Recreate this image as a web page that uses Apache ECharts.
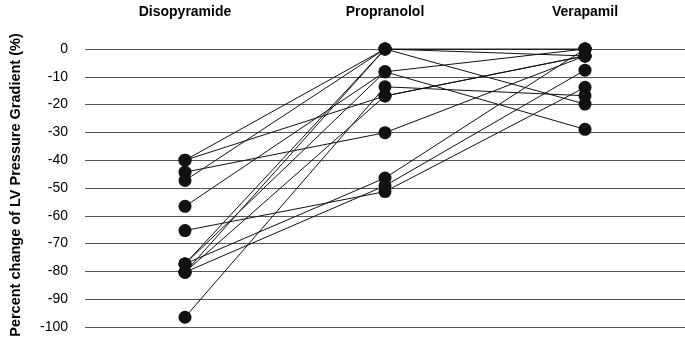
<!DOCTYPE html>
<html>
<head>
<meta charset="utf-8">
<script src="https://cdn.jsdelivr.net/npm/echarts@6/dist/echarts.min.js"></script>
<style>html,body{margin:0;padding:0;background:#fff}#c{width:685px;height:353px}</style>
</head>
<body>
<div id="c"></div>
<script>
const categories = ['Disopyramide', 'Propranolol', 'Verapamil'];
const yTicks = [0, -10, -20, -30, -40, -50, -60, -70, -80, -90, -100];
const yAxisTitle = 'Percent change of LV Pressure Gradient (%)';
// each patient: [Disopyramide, Propranolol, Verapamil]
const patient1 = [-40, 0, 0];
const patient2 = [-40, -16.9, -2.5];
const patient3 = [-44.3, -30.1, -2.5];
const patient4 = [-47.3, 0, -19.8];
const patient5 = [-56.6, -8.2, -28.9];
const patient6 = [-65.3, -51.3, -13.8];
const patient7 = [-77.3, 0, 0];
const patient8 = [-80.3, 0, -2.5];
const patient9 = [-77.3, -8.2, 0];
const patient10 = [-80.3, -16.9, -2.5];
const patient11 = [-77.3, -46.4, 0];
const patient12 = [-80.3, -49.2, -7.6];
const patient13 = [-96.5, -13.6, -16.8];
const patients = [patient1, patient2, patient3, patient4, patient5, patient6, patient7,
  patient8, patient9, patient10, patient11, patient12, patient13];

const font = 'Liberation Sans, Arial, sans-serif';
const chart = echarts.init(document.getElementById('c'), null, {renderer: 'canvas'});
chart.setOption({
  animation: false,
  backgroundColor: '#fff',
  grid: {left: 81, top: 49, width: 606, height: 278, containLabel: false},
  xAxis: {
    type: 'category',
    data: categories,
    position: 'top',
    boundaryGap: true,
    axisLine: {show: false},
    axisTick: {show: false},
    splitLine: {show: false},
    axisLabel: {margin: 30, color: '#000', fontSize: 14, fontWeight: 'bold', fontFamily: font}
  },
  yAxis: {
    type: 'value',
    min: -100, max: 0, interval: 10,
    name: yAxisTitle,
    nameLocation: 'middle',
    nameGap: 62,
    nameRotate: 90,
    nameTextStyle: {color: '#000', fontSize: 14.5, fontWeight: 'bold', fontFamily: font, padding: [0, 0, 0, 6]},
    axisLine: {show: false},
    axisTick: {show: false},
    axisLabel: {margin: 17, color: '#000', fontSize: 14, fontFamily: font,
      formatter: v => yTicks.includes(v) ? String(v) : ''},
    splitLine: {show: true, lineStyle: {color: '#555', width: 1}}
  },
  series: patients.map((p, i) => ({
    name: 'P' + (i + 1),
    type: 'line',
    data: p,
    symbol: 'circle',
    symbolSize: 13,
    itemStyle: {color: '#111'},
    lineStyle: {color: '#111', width: 1},
    z: 3
  }))
});
</script>
</body>
</html>
